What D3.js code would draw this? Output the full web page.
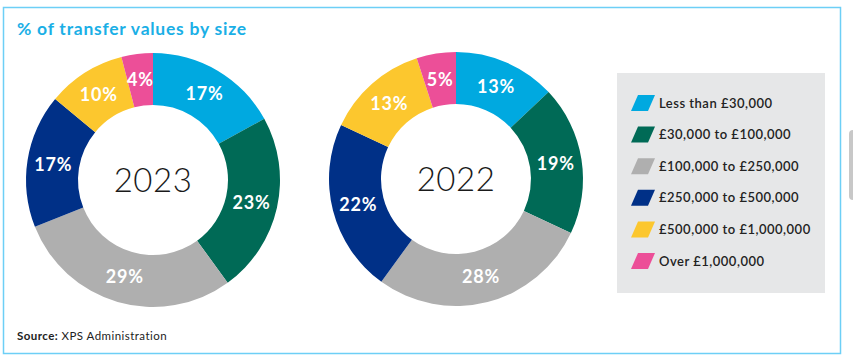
<!DOCTYPE html>
<html><head><meta charset="utf-8">
<script src="https://cdn.jsdelivr.net/npm/d3@7"></script>
<style>body{margin:0;background:#fff;}svg{display:block;}</style>
</head><body>
<script>
const categories = ["Less than £30,000","£30,000 to £100,000","£100,000 to £250,000","£250,000 to £500,000","£500,000 to £1,000,000","Over £1,000,000"];
const values2023 = [17, 23, 29, 17, 10, 4];
const values2022 = [13, 19, 28, 22, 13, 5];
const years = ["2023", "2022"];
const colors = ["#00a9e0","#006a56","#afafaf","#003087","#fcc72e","#ec4f98"];

const W = 853, H = 364;
const svg = d3.select("body").append("svg").attr("width", W).attr("height", H);
const font = "Lato, 'Open Sans', sans-serif";

// frame
svg.append("rect").attr("x",3.5).attr("y",7.5).attr("width",837).attr("height",346)
  .attr("fill","#fff").attr("stroke","#6dcff6").attr("stroke-width",1.5);
// scrollbar artifact
svg.append("rect").attr("x",849).attr("y",130).attr("width",8).attr("height",70).attr("rx",4)
  .attr("fill","#c8c8c8");

svg.append("text").attr("x",17).attr("y",35).text("% of transfer values by size")
  .attr("font-family",font).attr("font-weight",700).attr("font-size",17.5)
  .attr("letter-spacing",0.75).attr("fill","#1aafe6");

const src = svg.append("text").attr("x",17).attr("y",340).attr("font-family",font).attr("font-size",11.5)
  .attr("letter-spacing",0.45).attr("fill","#222");
src.append("tspan").attr("font-weight",700).text("Source:");
src.append("tspan").text(" XPS Administration");

const pie = d3.pie().sort(null).value(d => d);
const rIn = 75, rOut = 127;
const arc = d3.arc().innerRadius(rIn).outerRadius(rOut);
const labelArc = d3.arc().innerRadius(101).outerRadius(101);

[[values2023, 153, 180], [values2022, 456, 179]].forEach(([vals, cx, cy], i) => {
  const g = svg.append("g").attr("transform", `translate(${cx},${cy})`);
  const arcs = pie(vals);
  g.selectAll("path").data(arcs).join("path").attr("d", arc)
    .attr("fill", (d, j) => colors[j]);
  g.selectAll("text.lbl").data(arcs).join("text").attr("class","lbl")
    .attr("transform", d => `translate(${labelArc.centroid(d)})`)
    .attr("text-anchor","middle").attr("dy","0.36em")
    .attr("font-family",font).attr("font-weight",700).attr("font-size",18)
    .attr("letter-spacing",0.8).attr("fill","#fff").text(d => d.data + "%");
  g.append("text").attr("text-anchor","middle").attr("dy","0.36em")
    .attr("font-family",font).attr("font-weight",300).attr("font-size",33)
    .attr("letter-spacing",0.5).attr("fill","#1a1a1a").text(years[i]);
});

// legend
svg.append("rect").attr("x",617).attr("y",73).attr("width",208).attr("height",220).attr("fill","#e6e7e8");
const ly = d3.scalePoint().domain(categories).range([103, 261]);
const lg = svg.selectAll("g.leg").data(categories).join("g").attr("class","leg")
  .attr("transform", d => `translate(631,${ly(d)})`);
lg.append("path").attr("d","M7,-8 L24,-8 L17,8 L0,8 Z").attr("fill",(d,j)=>colors[j]);
lg.append("text").attr("x",28).attr("dy","0.36em").attr("font-family",font).attr("font-weight",600)
  .attr("font-size",13).attr("letter-spacing",0.5).attr("fill","#222").text(d => d);
</script>
</body></html>
